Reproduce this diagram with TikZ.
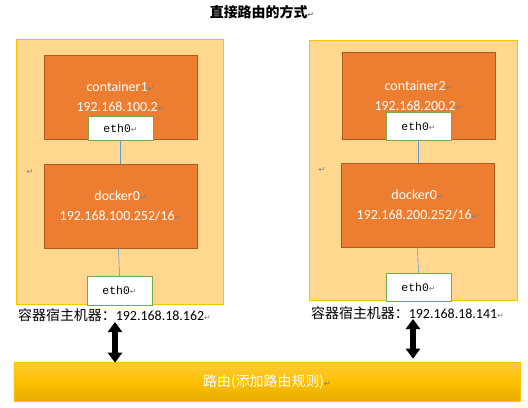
\documentclass[tikz,border=0pt]{standalone}
\usepackage{fontspec}
\setmainfont{Carlito}
\newfontfamily\cjk{Noto Sans CJK SC}
\newfontfamily\ethfont{Liberation Mono}
\newfontfamily\markfont{DejaVu Sans}
\usetikzlibrary{arrows.meta}

\definecolor{hostfill}{HTML}{FFD78E}
\definecolor{hostline}{HTML}{FFC000}
\definecolor{boxfill}{HTML}{ED7D31}
\definecolor{boxline}{HTML}{AE5A21}
\definecolor{ethline}{HTML}{70AD47}
\definecolor{linkblue}{HTML}{5B9BD5}
\definecolor{bartop}{HTML}{FFCB3C}
\definecolor{barmid}{HTML}{FFC000}
\definecolor{barbot}{HTML}{E6AC00}
\definecolor{markgray}{HTML}{7F7F7F}

\newcommand{\pmark}{{\markfont\fontsize{8}{8}\selectfont\color{markgray}↵}}

\tikzset{
    hostbox/.style={draw=hostline, fill=hostfill, line width=0.8bp, inner sep=0pt},
    netbox/.style={draw=boxline, fill=boxfill, line width=0.8bp, inner sep=0pt, text=white,
        align=center, font=\fontsize{14}{20}\selectfont},
    ethbox/.style={draw=ethline, fill=white, line width=0.8bp, inner sep=0pt,
        font=\ethfont\fontsize{11.5}{12}\selectfont},
    link/.style={draw=linkblue, line width=0.6bp},
    bigarrow/.style={line width=5.5bp, {Triangle[width=14bp,length=10bp]}-{Triangle[width=14bp,length=10bp]}}
}

\begin{document}
\begin{tikzpicture}[x=1bp,y=-1bp]
                        \useasboundingbox (0,0) rectangle (528,407);
                        % title
                        \node (title) at (262,12) {\cjk\bfseries\fontsize{14}{14}\selectfont 直接路由的方式\pmark};
                        % hosts
                        \node [hostbox, minimum width=207bp, minimum height=265bp] (hostL) at (119.5,171.5) {};
                        \node [hostbox, minimum width=208bp, minimum height=260bp] (hostR) at (413,170) {};
                        \node (markL) at (30,172) {\pmark};
                        \node (markR) at (322,170) {\pmark};
                        % containers
                        \node [netbox, minimum width=153bp, minimum height=84bp] (contL) at (120.5,97) {container1\pmark\\192.168.100.2\pmark};
                        \node [netbox, minimum width=153bp, minimum height=87bp] (contR) at (418.5,95.5) {container2\pmark\\192.168.200.2\pmark};
                        \node [ethbox, minimum width=65bp, minimum height=24bp] (ethcL) at (120.5,128) {eth0\pmark};
                        \node [ethbox, minimum width=65bp, minimum height=28bp] (ethcR) at (418.5,126) {eth0\pmark};
                        % bridges
                        \node [netbox, minimum width=153bp, minimum height=84bp] (dockL) at (120.5,206) {docker0\pmark\\192.168.100.252/16\pmark};
                        \node [netbox, minimum width=153bp, minimum height=84bp] (dockR) at (417.5,205) {docker0\pmark\\192.168.200.252/16\pmark};
                        \node [ethbox, minimum width=65bp, minimum height=29bp] (ethhL) at (119.5,290.5) {eth0\pmark};
                        \node [ethbox, minimum width=65bp, minimum height=28bp] (ethhR) at (418.5,287) {eth0\pmark};
                        \draw [link] (ethcL.south) -- (dockL.north -| ethcL.south);
                        \draw [link] (ethcR.south) -- (dockR.north -| ethcR.south);
                        \draw [link] ([xshift=-2bp]dockL.south) -- (ethhL.north);
                        \draw [link] (dockR.south) -- (ethhR.north);
                        % host addresses
                        \node [anchor=west, inner sep=0pt, font=\fontsize{14}{14}\selectfont] (ipL) at (18,315) {\cjk 容器宿主机器：\normalfont 192.168.18.162\pmark};
                        \node [anchor=west, inner sep=0pt, font=\fontsize{14}{14}\selectfont] (ipR) at (311,313) {\cjk 容器宿主机器：\normalfont 192.168.18.141\pmark};
                        % router
                        \node [draw=barmid, line width=0.6bp, top color=bartop, bottom color=barbot, middle color=barmid,
                               minimum width=506bp, minimum height=39bp, inner sep=0pt, text=white] (router) at (267,381.5)
                               {\cjk\fontsize{14}{14}\selectfont 路由(添加路由规则)\pmark};
                        \coordinate (arrL) at (115,322);
                        \coordinate (arrR) at (413,319);
                        \draw [bigarrow] (arrL) -- ([yshift=-1bp]arrL |- router.north);
                        \draw [bigarrow] (arrR) -- ([yshift=3bp]arrR |- router.north);
                    \end{tikzpicture}
\end{document}
